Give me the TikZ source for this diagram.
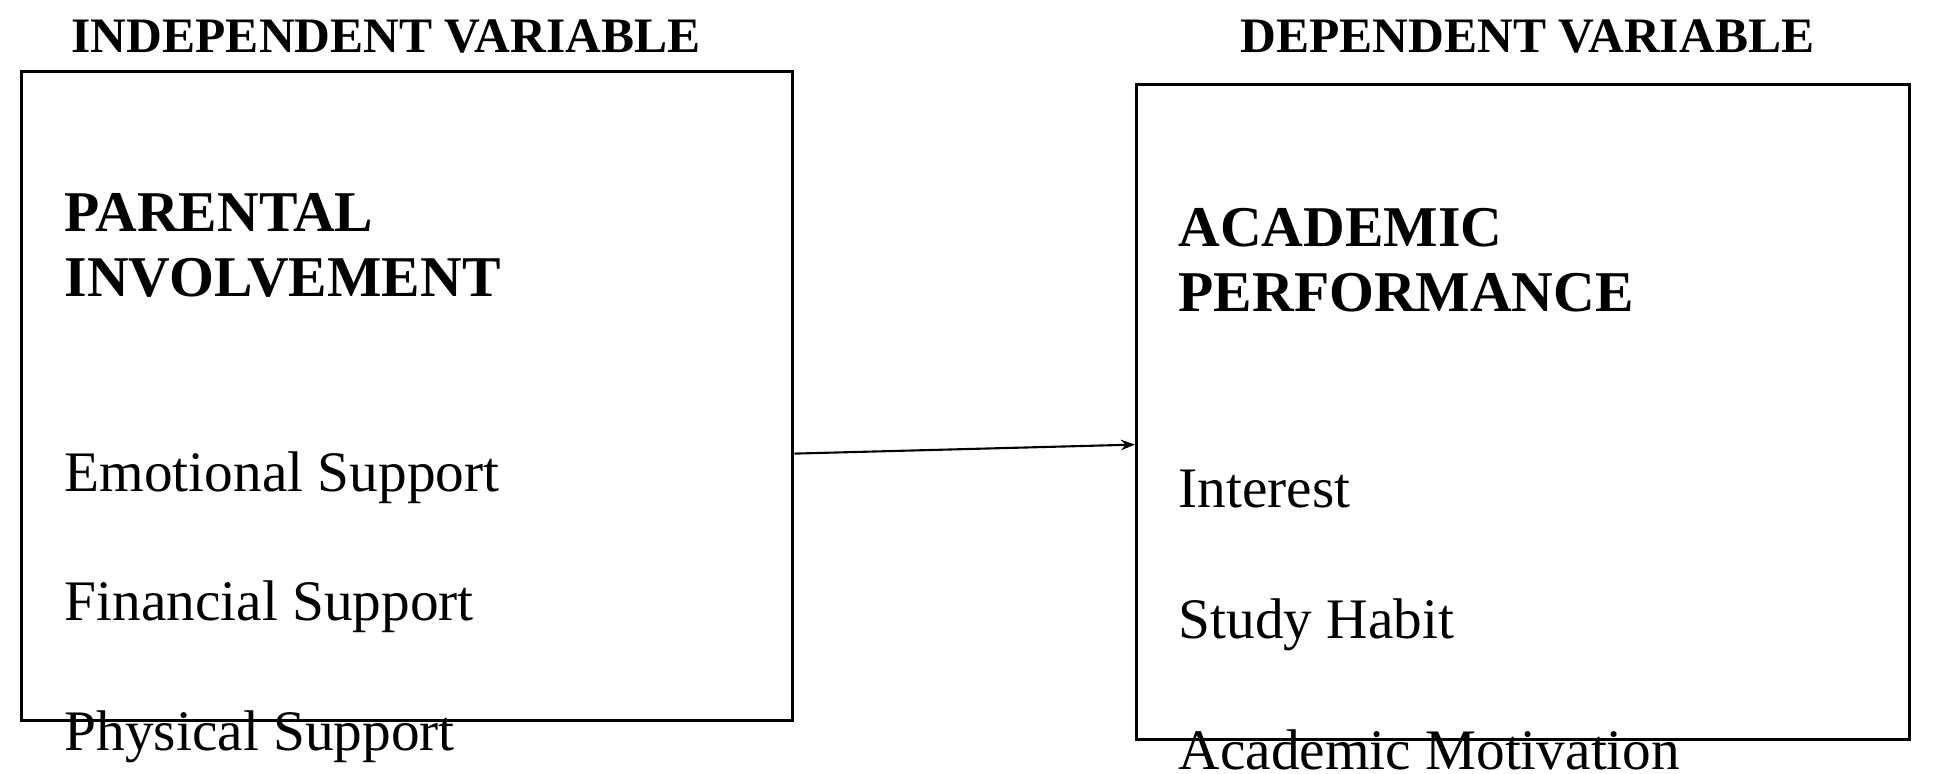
\documentclass[tikz,border=0pt]{standalone}
\usepackage{fontspec}
\setmainfont{Liberation Serif}
\usetikzlibrary{arrows.meta, positioning}

\begin{document}
\begin{tikzpicture}[x=0.01cm, y=-0.01cm,
    varbox/.style={draw, line width=0.8pt, inner sep=0pt, anchor=north west},
    vartitle/.style={font=\fontsize{14.1}{16}\selectfont\bfseries, inner sep=0pt, anchor=base west},
    varname/.style={font=\fontsize{16.4}{18.5}\selectfont\bfseries, inner sep=0pt, anchor=base west, align=left},
    varitem/.style={font=\fontsize{16.3}{18}\selectfont, inner sep=0pt, anchor=base west},
    link/.style={line width=0.6pt, -{Stealth[length=4pt, width=3pt]}}]
  \useasboundingbox (0,0) rectangle (1933,774);

  % Independent variable
  \node[vartitle] (ivtitle) at (71,53) {INDEPENDENT VARIABLE};
  \node[varbox, minimum width=7.71cm, minimum height=6.49cm] (ivbox) at (20,70) {};
  \node[varname] (ivname) at (64,297) {PARENTAL\\INVOLVEMENT};
  \node[varitem] (ivemo) at (64,492) {Emotional Support};
  \node[varitem] (ivfin) at (64,621) {Financial Support};
  \node[varitem] (ivphy) at (64,751) {Physical Support};

  % Dependent variable
  \node[vartitle] (dvtitle) at (1240,53) {DEPENDENT VARIABLE};
  \node[varbox, minimum width=7.73cm, minimum height=6.55cm] (dvbox) at (1135,83) {};
  \node[varname] (dvname) at (1178,312) {ACADEMIC\\PERFORMANCE};
  \node[varitem] (dvint) at (1178,508) {Interest};
  \node[varitem] (dvstu) at (1178,639) {Study Habit};
  \node[varitem] (dvmot) at (1178,770) {Academic Motivation};

  % Relation
  \draw[link] ([yshift=-0.575cm]ivbox.east) -- ([yshift=-0.325cm]dvbox.west);
\end{tikzpicture}
\end{document}
